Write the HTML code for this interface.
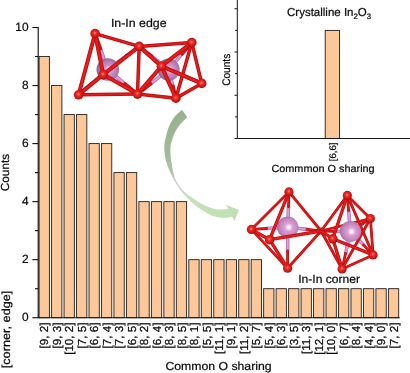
<!DOCTYPE html>
<html><head><meta charset="utf-8"><title>Common O sharing</title>
<style>
html,body{margin:0;padding:0;background:#fff;}
body{width:410px;height:373px;overflow:hidden;}
svg{display:block;font-family:"Liberation Sans",Arial,sans-serif;fill:#0a0a0a;}
text{stroke:#0a0a0a;stroke-width:0.22;text-rendering:geometricPrecision;}
.bar{fill:#fdc899;stroke:#241e1b;stroke-width:0.9;}
.ax{stroke:#151515;stroke-width:1.15;fill:none;}
.e{stroke:#b80e0e;stroke-width:2.8;stroke-linecap:round;fill:none;}
.f{stroke:#b80e0e;stroke-width:3.3;stroke-linecap:round;fill:none;}
.fh{stroke:#e81c1c;stroke-width:1.9;stroke-linecap:round;fill:none;}
.top .e{stroke-width:3.5;}.top .h{stroke-width:2.0;}.top .f{stroke-width:4.0;}.top .fh{stroke-width:2.3;}
.h{stroke:#e01a1a;stroke-width:1.6;stroke-linecap:round;fill:none;}
.p{stroke:#b672b4;stroke-width:3.6;stroke-linecap:round;fill:none;}
.ph{stroke:#dba0d6;stroke-width:1.8;stroke-linecap:round;fill:none;}
</style></head><body>
<svg width="410" height="373" viewBox="0 0 410 373">
<defs>
<radialGradient id="gO" cx="0.47" cy="0.44" r="0.58">
<stop offset="0" stop-color="#ff9484"/><stop offset="0.28" stop-color="#f23028"/><stop offset="0.72" stop-color="#cc1616"/><stop offset="1" stop-color="#980e0e"/>
</radialGradient>
<radialGradient id="gIn" cx="0.55" cy="0.5" r="0.6">
<stop offset="0" stop-color="#ffffff"/><stop offset="0.1" stop-color="#f4dcf1"/><stop offset="0.3" stop-color="#cf94ca"/><stop offset="0.62" stop-color="#b47cb2"/><stop offset="0.86" stop-color="#8f6a98"/><stop offset="1" stop-color="#6f5a80"/>
</radialGradient>
<radialGradient id="gIn2" cx="0.55" cy="0.5" r="0.6">
<stop offset="0" stop-color="#ffffff"/><stop offset="0.12" stop-color="#f8e4f5"/><stop offset="0.32" stop-color="#d99fd3"/><stop offset="0.65" stop-color="#c588c0"/><stop offset="0.88" stop-color="#a674a8"/><stop offset="1" stop-color="#86628e"/>
</radialGradient>
<linearGradient id="gA" gradientUnits="userSpaceOnUse" x1="183" y1="110" x2="236" y2="212">
<stop offset="0" stop-color="#98b290"/><stop offset="0.25" stop-color="#a0b998"/><stop offset="0.40" stop-color="#adc0a6"/><stop offset="0.50" stop-color="#c2cbbe"/><stop offset="0.56" stop-color="#d0d5ce"/><stop offset="0.64" stop-color="#cddbc6"/><stop offset="0.72" stop-color="#c6dfb9"/><stop offset="1" stop-color="#c3dfb4"/>
</linearGradient>
</defs>
<rect width="410" height="373" fill="#fff"/>

<g>
<rect class="bar" x="39.10" y="56.52" width="10.3" height="261.18"/>
<rect class="bar" x="51.58" y="85.54" width="10.3" height="232.16"/>
<rect class="bar" x="64.05" y="114.56" width="10.3" height="203.14"/>
<rect class="bar" x="76.53" y="114.56" width="10.3" height="203.14"/>
<rect class="bar" x="89.00" y="143.58" width="10.3" height="174.12"/>
<rect class="bar" x="101.47" y="143.58" width="10.3" height="174.12"/>
<rect class="bar" x="113.95" y="172.60" width="10.3" height="145.10"/>
<rect class="bar" x="126.43" y="172.60" width="10.3" height="145.10"/>
<rect class="bar" x="138.90" y="201.62" width="10.3" height="116.08"/>
<rect class="bar" x="151.38" y="201.62" width="10.3" height="116.08"/>
<rect class="bar" x="163.85" y="201.62" width="10.3" height="116.08"/>
<rect class="bar" x="176.32" y="201.62" width="10.3" height="116.08"/>
<rect class="bar" x="188.80" y="259.66" width="10.3" height="58.04"/>
<rect class="bar" x="201.27" y="259.66" width="10.3" height="58.04"/>
<rect class="bar" x="213.75" y="259.66" width="10.3" height="58.04"/>
<rect class="bar" x="226.22" y="259.66" width="10.3" height="58.04"/>
<rect class="bar" x="238.70" y="259.66" width="10.3" height="58.04"/>
<rect class="bar" x="251.17" y="259.66" width="10.3" height="58.04"/>
<rect class="bar" x="263.65" y="288.68" width="10.3" height="29.02"/>
<rect class="bar" x="276.12" y="288.68" width="10.3" height="29.02"/>
<rect class="bar" x="288.60" y="288.68" width="10.3" height="29.02"/>
<rect class="bar" x="301.07" y="288.68" width="10.3" height="29.02"/>
<rect class="bar" x="313.55" y="288.68" width="10.3" height="29.02"/>
<rect class="bar" x="326.03" y="288.68" width="10.3" height="29.02"/>
<rect class="bar" x="338.50" y="288.68" width="10.3" height="29.02"/>
<rect class="bar" x="350.98" y="288.68" width="10.3" height="29.02"/>
<rect class="bar" x="363.45" y="288.68" width="10.3" height="29.02"/>
<rect class="bar" x="375.93" y="288.68" width="10.3" height="29.02"/>
<rect class="bar" x="388.40" y="288.68" width="10.3" height="29.02"/>
</g>
<path class="ax" d="M38.2 27.00V317.70H399.8"/>
<path class="ax" d="M32.40 317.70H38.2"/>
<path class="ax" d="M35.00 288.68H38.2"/>
<path class="ax" d="M32.40 259.66H38.2"/>
<path class="ax" d="M35.00 230.64H38.2"/>
<path class="ax" d="M32.40 201.62H38.2"/>
<path class="ax" d="M35.00 172.60H38.2"/>
<path class="ax" d="M32.40 143.58H38.2"/>
<path class="ax" d="M35.00 114.56H38.2"/>
<path class="ax" d="M32.40 85.54H38.2"/>
<path class="ax" d="M35.00 56.52H38.2"/>
<path class="ax" d="M32.40 27.50H38.2"/>
<text x="28.6" y="321.25" font-size="11.9" text-anchor="end">0</text>
<text x="28.6" y="263.21" font-size="11.9" text-anchor="end">2</text>
<text x="28.6" y="205.17" font-size="11.9" text-anchor="end">4</text>
<text x="28.6" y="147.13" font-size="11.9" text-anchor="end">6</text>
<text x="28.6" y="89.09" font-size="11.9" text-anchor="end">8</text>
<text x="28.6" y="31.05" font-size="11.9" text-anchor="end">10</text>
<text transform="translate(48.35 322.6) rotate(-90)" font-size="11.6" text-anchor="end">[9, 2]</text>
<text transform="translate(60.83 322.6) rotate(-90)" font-size="11.6" text-anchor="end">[9, 3]</text>
<text transform="translate(73.30 322.6) rotate(-90)" font-size="11.6" text-anchor="end">[10, 2]</text>
<text transform="translate(85.78 322.6) rotate(-90)" font-size="11.6" text-anchor="end">[7, 5]</text>
<text transform="translate(98.25 322.6) rotate(-90)" font-size="11.6" text-anchor="end">[6, 6]</text>
<text transform="translate(110.72 322.6) rotate(-90)" font-size="11.6" text-anchor="end">[7, 4]</text>
<text transform="translate(123.20 322.6) rotate(-90)" font-size="11.6" text-anchor="end">[7, 3]</text>
<text transform="translate(135.68 322.6) rotate(-90)" font-size="11.6" text-anchor="end">[6, 5]</text>
<text transform="translate(148.15 322.6) rotate(-90)" font-size="11.6" text-anchor="end">[8, 2]</text>
<text transform="translate(160.62 322.6) rotate(-90)" font-size="11.6" text-anchor="end">[6, 4]</text>
<text transform="translate(173.10 322.6) rotate(-90)" font-size="11.6" text-anchor="end">[8, 3]</text>
<text transform="translate(185.57 322.6) rotate(-90)" font-size="11.6" text-anchor="end">[8, 5]</text>
<text transform="translate(198.05 322.6) rotate(-90)" font-size="11.6" text-anchor="end">[8, 1]</text>
<text transform="translate(210.52 322.6) rotate(-90)" font-size="11.6" text-anchor="end">[5, 5]</text>
<text transform="translate(223.00 322.6) rotate(-90)" font-size="11.6" text-anchor="end">[11, 1]</text>
<text transform="translate(235.47 322.6) rotate(-90)" font-size="11.6" text-anchor="end">[9, 1]</text>
<text transform="translate(247.95 322.6) rotate(-90)" font-size="11.6" text-anchor="end">[11, 2]</text>
<text transform="translate(260.43 322.6) rotate(-90)" font-size="11.6" text-anchor="end">[5, 7]</text>
<text transform="translate(272.90 322.6) rotate(-90)" font-size="11.6" text-anchor="end">[5, 4]</text>
<text transform="translate(285.38 322.6) rotate(-90)" font-size="11.6" text-anchor="end">[6, 3]</text>
<text transform="translate(297.85 322.6) rotate(-90)" font-size="11.6" text-anchor="end">[3, 5]</text>
<text transform="translate(310.32 322.6) rotate(-90)" font-size="11.6" text-anchor="end">[11, 3]</text>
<text transform="translate(322.80 322.6) rotate(-90)" font-size="11.6" text-anchor="end">[12, 1]</text>
<text transform="translate(335.28 322.6) rotate(-90)" font-size="11.6" text-anchor="end">[10, 0]</text>
<text transform="translate(347.75 322.6) rotate(-90)" font-size="11.6" text-anchor="end">[6, 7]</text>
<text transform="translate(360.23 322.6) rotate(-90)" font-size="11.6" text-anchor="end">[8, 4]</text>
<text transform="translate(372.70 322.6) rotate(-90)" font-size="11.6" text-anchor="end">[4, 4]</text>
<text transform="translate(385.18 322.6) rotate(-90)" font-size="11.6" text-anchor="end">[9, 0]</text>
<text transform="translate(397.65 322.6) rotate(-90)" font-size="11.6" text-anchor="end">[7, 2]</text>
<text transform="translate(8.5 172.55) rotate(-90)" font-size="11.7" text-anchor="middle" textLength="37.2" lengthAdjust="spacingAndGlyphs">Counts</text>
<text transform="translate(9.7 329.45) rotate(-90)" font-size="11.6" text-anchor="middle" textLength="77.6" lengthAdjust="spacingAndGlyphs">[corner, edge]</text>
<text x="218.5" y="369.7" font-size="11.6" text-anchor="middle" textLength="106.2" lengthAdjust="spacingAndGlyphs">Common O sharing</text>
<text x="138.75" y="27.2" font-size="11.8" text-anchor="middle" textLength="55.6" lengthAdjust="spacingAndGlyphs">In-In edge</text>
<text x="329.15" y="282.7" font-size="11.7" text-anchor="middle" textLength="61.8" lengthAdjust="spacingAndGlyphs">In-In corner</text>
<rect class="bar" x="325.2" y="30.4" width="14.3" height="108.10"/>
<path class="ax" style="stroke-width:1" d="M237.3 0V138.5H410"/>
<path class="ax" style="stroke-width:1" d="M234.50 138.50H237.3"/>
<path class="ax" style="stroke-width:1" d="M235.10 116.88H237.3"/>
<path class="ax" style="stroke-width:1" d="M234.50 95.26H237.3"/>
<path class="ax" style="stroke-width:1" d="M235.10 73.64H237.3"/>
<path class="ax" style="stroke-width:1" d="M234.50 52.02H237.3"/>
<path class="ax" style="stroke-width:1" d="M235.10 30.40H237.3"/>
<path class="ax" style="stroke-width:1" d="M234.50 8.78H237.3"/>
<text transform="translate(230.0 69.8) rotate(-90) scale(0.93 1)" font-size="10.9" text-anchor="middle">Counts</text>
<text x="323.05" y="172.4" font-size="10.3" text-anchor="middle" textLength="103.2" lengthAdjust="spacingAndGlyphs">Commmon O sharing</text>
<text transform="translate(287.0 16.4) scale(1.0 1)" font-size="11.5">Crystalline In<tspan font-size="7.8" dy="2.7">2</tspan><tspan dy="-2.7">O</tspan><tspan font-size="7.8" dy="2.7">3</tspan></text>
<text transform="translate(336.3 142.6) rotate(-90)" font-size="9.6" text-anchor="end">[6,6]</text>
<path fill="url(#gA)" d="M182.0 109.7C180.8 110.8 177.1 113.7 175.0 116.3C172.9 118.9 170.9 122.3 169.4 125.6C167.9 128.9 166.9 133.1 166.1 136.0C165.3 138.9 164.9 140.7 164.6 143.0C164.3 145.3 164.2 147.1 164.4 150.0C164.6 152.9 165.0 157.0 165.8 160.3C166.6 163.6 168.1 167.3 169.2 170.0C170.3 172.7 171.4 174.6 172.3 176.5C173.2 178.4 173.5 179.0 174.9 181.4C176.3 183.8 178.7 188.0 180.8 190.8C183.0 193.6 185.1 195.6 187.8 198.3C190.5 201.0 194.1 204.5 197.0 206.8C199.9 209.1 202.7 210.7 205.5 212.3C208.3 213.9 210.6 215.3 213.8 216.2C217.0 217.1 221.5 217.8 224.5 217.9C227.5 218.0 230.7 217.0 231.9 216.8L234.6 221.1L239 209.9L225.2 204.5L228.5 208.8C226.7 208.9 221.1 209.8 217.8 209.5C214.5 209.2 211.4 208.1 208.5 207.0C205.6 205.9 203.3 204.9 200.2 203.1C197.1 201.3 193.0 198.3 190.0 196.1C187.0 193.8 184.3 192.2 182.0 189.6C179.7 187.0 177.4 182.9 176.1 180.6C174.8 178.2 174.7 177.5 174.1 175.5C173.5 173.5 173.1 171.3 172.6 168.6C172.1 165.9 171.4 162.3 171.0 159.2C170.6 156.1 170.4 152.5 170.4 150.0C170.4 147.5 170.6 145.7 170.9 144.0C171.2 142.3 171.5 142.0 172.2 140.0C172.9 138.0 173.6 134.9 175.0 132.2C176.4 129.5 178.6 126.3 180.6 123.8C182.6 121.3 186.1 118.3 187.2 117.2Z"/>
<g class="top">
<path class="p" d="M107.8 69.5L100.4 48.7"/><path class="ph" d="M107.8 69.5L100.4 48.7"/><path class="e" d="M100.4 48.7L95.1 33.6"/><path class="h" d="M100.4 48.7L95.1 33.6"/>
<path class="p" d="M107.8 69.5L125.0 83.8"/><path class="ph" d="M107.8 69.5L125.0 83.8"/><path class="e" d="M125.0 83.8L137.5 94.1"/><path class="h" d="M125.0 83.8L137.5 94.1"/>
<path class="p" d="M107.8 69.5L90.9 84.2"/><path class="ph" d="M107.8 69.5L90.9 84.2"/><path class="e" d="M90.9 84.2L78.6 94.8"/><path class="h" d="M90.9 84.2L78.6 94.8"/>
<path class="p" d="M107.8 69.5L126.0 56.1"/><path class="ph" d="M107.8 69.5L126.0 56.1"/><path class="e" d="M126.0 56.1L139.2 46.4"/><path class="h" d="M126.0 56.1L139.2 46.4"/>
<path class="p" d="M168.7 69.6L182.1 53.9"/><path class="ph" d="M168.7 69.6L182.1 53.9"/><path class="e" d="M182.1 53.9L191.8 42.6"/><path class="h" d="M182.1 53.9L191.8 42.6"/>
<path class="p" d="M168.7 69.6L172.9 86.2"/><path class="ph" d="M168.7 69.6L172.9 86.2"/><path class="e" d="M172.9 86.2L175.9 98.2"/><path class="h" d="M172.9 86.2L175.9 98.2"/>
<path class="p" d="M168.7 69.6L187.8 77.6"/><path class="ph" d="M168.7 69.6L187.8 77.6"/><path class="e" d="M187.8 77.6L201.7 83.4"/><path class="h" d="M187.8 77.6L201.7 83.4"/>
<path class="p" d="M168.7 69.6L151.6 56.1"/><path class="ph" d="M168.7 69.6L151.6 56.1"/><path class="e" d="M151.6 56.1L139.2 46.4"/><path class="h" d="M151.6 56.1L139.2 46.4"/>
<path class="p" d="M168.7 69.6L150.6 83.8"/><path class="ph" d="M168.7 69.6L150.6 83.8"/><path class="e" d="M150.6 83.8L137.5 94.1"/><path class="h" d="M150.6 83.8L137.5 94.1"/>
<path class="e" d="M95.1 33.6L139.2 46.4"/><path class="h" d="M95.1 33.6L139.2 46.4"/>
<path class="e" d="M139.2 46.4L191.8 42.6"/><path class="h" d="M139.2 46.4L191.8 42.6"/>
<path class="e" d="M191.8 42.6L201.7 83.4"/><path class="h" d="M191.8 42.6L201.7 83.4"/>
<path class="e" d="M191.8 42.6L175.9 98.2"/><path class="h" d="M191.8 42.6L175.9 98.2"/>
<path class="e" d="M201.7 83.4L175.9 98.2"/><path class="h" d="M201.7 83.4L175.9 98.2"/>
<path class="e" d="M78.6 94.8L137.5 94.1"/><path class="h" d="M78.6 94.8L137.5 94.1"/>
<path class="e" d="M137.5 94.1L175.9 98.2"/><path class="h" d="M137.5 94.1L175.9 98.2"/>
<path class="e" d="M139.2 46.4L137.5 94.1"/><path class="h" d="M139.2 46.4L137.5 94.1"/>
<circle cx="107.8" cy="69.5" r="11.3" fill="url(#gIn)"/>
<circle cx="168.7" cy="69.6" r="11.0" fill="url(#gIn)"/>
<path class="f" d="M95.1 33.6L78.6 94.8"/><path class="fh" d="M95.1 33.6L78.6 94.8"/>
<path class="f" d="M95.1 33.6L103.2 74.6"/><path class="fh" d="M95.1 33.6L103.2 74.6"/>
<path class="f" d="M78.6 94.8L103.2 74.6"/><path class="fh" d="M78.6 94.8L103.2 74.6"/>
<path class="f" d="M103.2 74.6L139.2 46.4"/><path class="fh" d="M103.2 74.6L139.2 46.4"/>
<path class="f" d="M103.2 74.6L137.5 94.1"/><path class="fh" d="M103.2 74.6L137.5 94.1"/>
<path class="f" d="M139.2 46.4L161.4 66.2"/><path class="fh" d="M139.2 46.4L161.4 66.2"/>
<path class="f" d="M137.5 94.1L161.4 66.2"/><path class="fh" d="M137.5 94.1L161.4 66.2"/>
<path class="f" d="M161.4 66.2L191.8 42.6"/><path class="fh" d="M161.4 66.2L191.8 42.6"/>
<path class="f" d="M161.4 66.2L201.7 83.4"/><path class="fh" d="M161.4 66.2L201.7 83.4"/>
<path class="f" d="M161.4 66.2L175.9 98.2"/><path class="fh" d="M161.4 66.2L175.9 98.2"/>
<circle cx="95.1" cy="33.6" r="4.8" fill="url(#gO)"/>
<circle cx="78.6" cy="94.8" r="4.8" fill="url(#gO)"/>
<circle cx="139.2" cy="46.4" r="4.8" fill="url(#gO)"/>
<circle cx="137.5" cy="94.1" r="4.8" fill="url(#gO)"/>
<circle cx="191.8" cy="42.6" r="4.8" fill="url(#gO)"/>
<circle cx="201.7" cy="83.4" r="4.8" fill="url(#gO)"/>
<circle cx="175.9" cy="98.2" r="4.8" fill="url(#gO)"/>
<circle cx="103.2" cy="74.6" r="4.8" fill="url(#gO)"/>
<circle cx="161.4" cy="66.2" r="4.8" fill="url(#gO)"/>
</g>
<g>
<path class="p" d="M287.7 227.3L288.5 206.8"/><path class="ph" d="M287.7 227.3L288.5 206.8"/><path class="e" d="M288.5 206.8L289.0 191.9"/><path class="h" d="M288.5 206.8L289.0 191.9"/>
<path class="p" d="M287.7 227.3L287.6 251.0"/><path class="ph" d="M287.7 227.3L287.6 251.0"/><path class="e" d="M287.6 251.0L287.6 268.2"/><path class="h" d="M287.6 251.0L287.6 268.2"/>
<path class="p" d="M287.7 227.3L266.6 228.5"/><path class="ph" d="M287.7 227.3L266.6 228.5"/><path class="e" d="M266.6 228.5L251.4 229.4"/><path class="h" d="M266.6 228.5L251.4 229.4"/>
<path class="p" d="M287.7 227.3L307.1 229.4"/><path class="ph" d="M287.7 227.3L307.1 229.4"/><path class="e" d="M307.1 229.4L321.1 231.0"/><path class="h" d="M307.1 229.4L321.1 231.0"/>
<path class="p" d="M350.5 231.6L348.6 210.6"/><path class="ph" d="M350.5 231.6L348.6 210.6"/><path class="e" d="M348.6 210.6L347.3 195.4"/><path class="h" d="M348.6 210.6L347.3 195.4"/>
<path class="p" d="M350.5 231.6L345.6 253.3"/><path class="ph" d="M350.5 231.6L345.6 253.3"/><path class="e" d="M345.6 253.3L342.1 269.0"/><path class="h" d="M345.6 253.3L342.1 269.0"/>
<path class="p" d="M350.5 231.6L362.0 224.0"/><path class="ph" d="M350.5 231.6L362.0 224.0"/><path class="e" d="M362.0 224.0L370.4 218.5"/><path class="h" d="M362.0 224.0L370.4 218.5"/>
<path class="p" d="M350.5 231.6L363.6 245.1"/><path class="ph" d="M350.5 231.6L363.6 245.1"/><path class="e" d="M363.6 245.1L373.1 254.9"/><path class="h" d="M363.6 245.1L373.1 254.9"/>
<path class="p" d="M350.5 231.6L333.4 231.3"/><path class="ph" d="M350.5 231.6L333.4 231.3"/><path class="e" d="M333.4 231.3L321.1 231.0"/><path class="h" d="M333.4 231.3L321.1 231.0"/>
<path class="e" d="M289.0 191.9L321.1 231.0"/><path class="h" d="M289.0 191.9L321.1 231.0"/>
<path class="e" d="M287.6 268.2L321.1 231.0"/><path class="h" d="M287.6 268.2L321.1 231.0"/>
<path class="e" d="M289.0 191.9L251.4 229.4"/><path class="h" d="M289.0 191.9L251.4 229.4"/>
<path class="e" d="M251.4 229.4L287.6 268.2"/><path class="h" d="M251.4 229.4L287.6 268.2"/>
<path class="e" d="M321.1 231.0L370.4 218.5"/><path class="h" d="M321.1 231.0L370.4 218.5"/>
<path class="e" d="M347.3 195.4L370.4 218.5"/><path class="h" d="M347.3 195.4L370.4 218.5"/>
<path class="e" d="M370.4 218.5L373.1 254.9"/><path class="h" d="M370.4 218.5L373.1 254.9"/>
<path class="e" d="M347.3 195.4L373.1 254.9"/><path class="h" d="M347.3 195.4L373.1 254.9"/>
<path class="e" d="M321.1 231.0L347.3 195.4"/><path class="h" d="M321.1 231.0L347.3 195.4"/>
<path class="e" d="M321.1 231.0L342.1 269.0"/><path class="h" d="M321.1 231.0L342.1 269.0"/>
<path class="e" d="M373.1 254.9L342.1 269.0"/><path class="h" d="M373.1 254.9L342.1 269.0"/>
<path class="e" d="M342.1 269.0L370.4 218.5"/><path class="h" d="M342.1 269.0L370.4 218.5"/>
<circle cx="321.1" cy="231.0" r="3.4" fill="url(#gO)"/>
<circle cx="287.7" cy="227.3" r="10.7" fill="url(#gIn2)"/>
<circle cx="350.5" cy="231.6" r="10.6" fill="url(#gIn2)"/>
<path class="f" d="M289.0 191.9L269.6 239.7"/><path class="fh" d="M289.0 191.9L269.6 239.7"/>
<path class="f" d="M251.4 229.4L269.6 239.7"/><path class="fh" d="M251.4 229.4L269.6 239.7"/>
<path class="f" d="M269.6 239.7L287.6 268.2"/><path class="fh" d="M269.6 239.7L287.6 268.2"/>
<path class="f" d="M269.6 239.7L321.1 231.0"/><path class="fh" d="M269.6 239.7L321.1 231.0"/>
<path class="f" d="M347.3 195.4L332.8 238.8"/><path class="fh" d="M347.3 195.4L332.8 238.8"/>
<path class="f" d="M321.1 231.0L332.8 238.8"/><path class="fh" d="M321.1 231.0L332.8 238.8"/>
<path class="f" d="M342.1 269.0L332.8 238.8"/><path class="fh" d="M342.1 269.0L332.8 238.8"/>
<path class="f" d="M373.1 254.9L332.8 238.8"/><path class="fh" d="M373.1 254.9L332.8 238.8"/>
<circle cx="289.0" cy="191.9" r="4.6" fill="url(#gO)"/>
<circle cx="251.4" cy="229.4" r="4.6" fill="url(#gO)"/>
<circle cx="287.6" cy="268.2" r="4.6" fill="url(#gO)"/>
<circle cx="347.3" cy="195.4" r="4.6" fill="url(#gO)"/>
<circle cx="370.4" cy="218.5" r="4.6" fill="url(#gO)"/>
<circle cx="373.1" cy="254.9" r="4.6" fill="url(#gO)"/>
<circle cx="342.1" cy="269.0" r="4.6" fill="url(#gO)"/>
<circle cx="269.6" cy="239.7" r="4.8" fill="url(#gO)"/>
<circle cx="332.8" cy="238.8" r="4.8" fill="url(#gO)"/>
</g>
</svg></body></html>
